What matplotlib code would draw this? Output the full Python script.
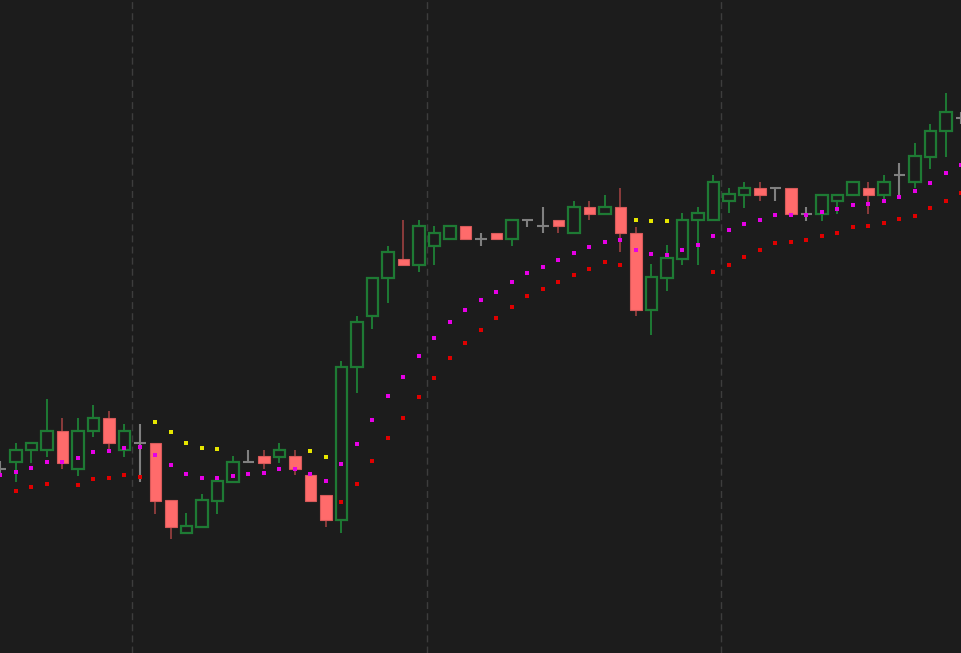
import matplotlib
matplotlib.use("Agg")
import matplotlib.pyplot as plt
import numpy as np

nan = np.nan

# OHLC (price units)
opens = [23.15, 23.8, 25.0, 25.0, 26.9, 23.1, 26.9, 28.2, 25.0, 25.7,
         25.7, 20.0, 16.7, 17.3, 19.9, 21.8, 23.8, 24.4, 24.3, 24.4,
         22.5, 20.5, 18.0, 33.3, 38.4, 42.2, 44.1, 43.5, 45.4, 46.1,
         47.4, 46.1, 46.7, 46.1, 48.0, 47.4, 48.0, 46.7, 49.3, 48.6,
         49.3, 46.7, 39.0, 42.2, 44.1, 48.0, 48.0, 49.9, 50.5, 51.2,
         51.2, 51.2, 48.6, 48.6, 49.9, 50.5, 51.2, 50.5, 52.5, 51.8,
         54.3, 56.9, 58.2]
highs = [23.9, 25.7, 25.7, 30.1, 28.2, 28.2, 29.5, 28.9, 27.6, 27.6,
         25.7, 20.0, 18.7, 20.6, 21.9, 24.4, 25.0, 25.0, 25.7, 25.0,
         22.5, 20.5, 33.9, 38.4, 42.2, 45.4, 48.0, 48.0, 47.4, 47.4,
         47.4, 46.7, 46.7, 48.0, 48.0, 49.3, 48.0, 49.9, 49.9, 50.5,
         51.2, 47.3, 43.6, 45.5, 48.7, 49.3, 52.5, 51.2, 51.8, 51.8,
         51.2, 51.2, 49.3, 50.5, 50.5, 51.8, 51.8, 52.5, 53.7, 55.7,
         57.6, 60.7, 58.8]
lows = [22.4, 21.8, 23.7, 24.3, 23.1, 22.4, 26.3, 25.0, 24.3, 21.8,
        18.6, 16.1, 16.7, 17.3, 18.6, 21.8, 23.8, 23.1, 23.7, 22.5,
        19.9, 17.3, 16.7, 30.7, 37.1, 39.7, 43.5, 42.8, 43.5, 46.1,
        46.1, 45.4, 46.1, 45.4, 47.3, 46.7, 46.7, 46.7, 48.0, 48.6,
        44.8, 38.4, 36.5, 40.9, 43.5, 43.5, 48.0, 48.7, 49.2, 49.9,
        49.9, 48.6, 47.9, 47.9, 48.6, 50.5, 48.6, 49.9, 50.5, 51.2,
        53.1, 54.3, 57.6]
closes = [23.15, 25.0, 25.7, 26.9, 23.7, 26.9, 28.2, 25.7, 26.9, 25.7,
          19.9, 17.3, 17.4, 20.0, 21.9, 23.8, 23.8, 23.7, 25.0, 23.1,
          19.9, 18.0, 33.3, 37.8, 42.2, 44.8, 43.5, 47.4, 46.7, 47.4,
          46.1, 46.1, 46.1, 48.0, 48.0, 47.4, 47.4, 49.3, 48.6, 49.3,
          46.7, 39.0, 42.3, 44.2, 48.0, 48.7, 51.8, 50.6, 51.2, 50.5,
          51.2, 48.6, 48.6, 50.5, 50.5, 51.8, 50.5, 51.8, 52.5, 54.4,
          56.9, 58.8, 58.2]

# indicator dots
magenta_line = [22.47, 22.8, 23.17, 23.77, 23.77, 24.2, 24.77, 24.9, 25.23, 25.3,
                24.47, 23.47, 22.63, 22.23, 22.17, 22.4, 22.57, 22.73, 23.07, 23.07,
                22.6, 21.95, 23.6, 25.6, 27.97, 30.4, 32.27, 34.4, 36.17, 37.77,
                38.97, 40.0, 40.83, 41.83, 42.73, 43.33, 44.0, 44.73, 45.28, 45.85,
                45.97, 45.0, 44.6, 44.55, 45.0, 45.5, 46.4, 47.02, 47.6, 48.03,
                48.5, 48.5, 48.5, 48.77, 49.07, 49.47, 49.63, 49.9, 50.3, 50.87,
                51.7, 52.73, 53.5]
red_line = [nan, 20.9, 21.33, 21.57, nan, 21.52, 22.07, 22.17, 22.47, 22.27,
            nan, nan, nan, nan, nan, nan, nan, nan, nan, nan,
            nan, nan, 19.8, 21.57, 23.93, 26.23, 28.2, 30.33, 32.2, 34.17,
            35.7, 37.0, 38.17, 39.27, 40.38, 41.13, 41.83, 42.53, 43.13, 43.8,
            43.53, nan, nan, nan, nan, nan, 42.85, 43.53, 44.33, 44.97,
            45.67, 45.8, 46.03, 46.37, 46.7, 47.27, 47.37, 47.73, 48.07, 48.43,
            49.2, 49.87, 50.67]
yellow_line = [nan] * 10 + [27.77, 26.77, 25.67, 25.23, 25.1, nan, nan, nan, nan, nan,
                            24.93, 24.32] + [nan] * 19 + [47.97, 47.93, 47.87] + [nan] * 19

day_breaks = [8.5, 27.5, 46.5]

bg = "#1c1c1c"
up_col = "#1e7a34"
down_col = "#ff6b6b"
down_wick = "#8a3b3b"
doji_col = "#808080"
width = 0.76

fig = plt.figure(figsize=(9.61, 6.53), dpi=100, facecolor=bg)
ax = fig.add_axes([0, 0, 1, 1])
ax.set_facecolor(bg)

for x in day_breaks:
    ax.axvline(x, color="#3d3d3d", lw=1, ls=(0, (5, 3)), zorder=0)

for i, (o, h, l, c) in enumerate(zip(opens, highs, lows, closes)):
    top, bot = max(o, c), min(o, c)
    if o == c:
        ax.vlines(i, l, h, color=doji_col, lw=1.5, zorder=2)
        ax.hlines(c, i - width / 2, i + width / 2, color=doji_col, lw=1.5, zorder=2)
    elif c > o:
        ax.vlines(i, l, h, color=up_col, lw=1.4, zorder=1)
        ax.bar(i, top - bot, width, bot, facecolor=bg, edgecolor=up_col,
               linewidth=1.6, zorder=2)
    else:
        ax.vlines(i, l, h, color=down_wick, lw=1.4, zorder=1)
        ax.bar(i, top - bot, width, bot, facecolor=down_col, edgecolor="#d85a5a",
               linewidth=0.8, zorder=2)

idx = np.arange(len(opens))
dot = dict(ls="none", marker="s", ms=2.6, mew=0, zorder=3)
ax.plot(idx, red_line, color="#e00000", **dot)
ax.plot(idx, magenta_line, color="#e600e6", **dot)
ax.plot(idx, yellow_line, color="#e6e600", **dot)

ax.set_xlim(-0.032, 61.97)
ax.set_ylim(4.7, 70.0)
ax.axis("off")

fig.savefig("out.png", dpi=100, facecolor=bg)
